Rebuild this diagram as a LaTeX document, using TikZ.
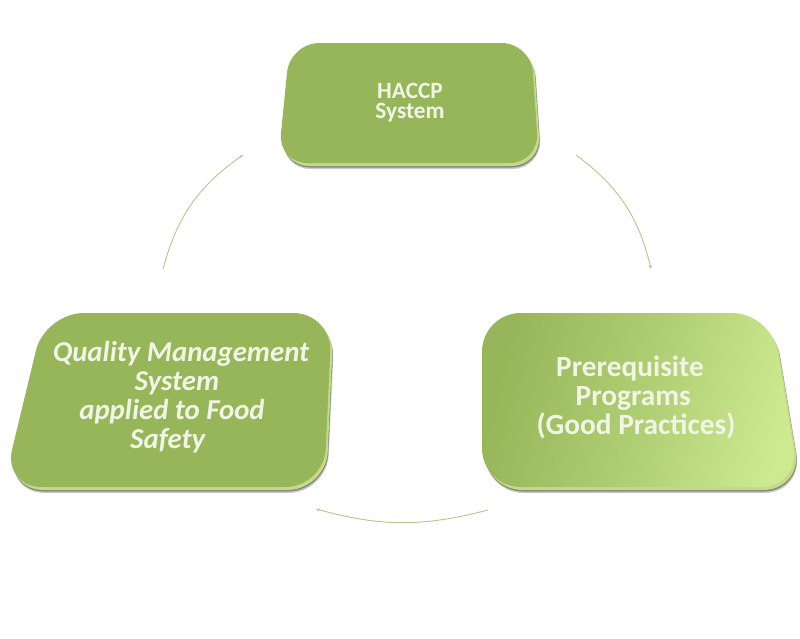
\documentclass[tikz,border=0pt]{standalone}
\usepackage{fontspec}
\setmainfont{Carlito}
\usepackage{tikz}
\usetikzlibrary{positioning,calc,arrows.meta}
\definecolor{faceleft}{HTML}{97B65A}
\definecolor{facemid}{HTML}{AFCD72}
\definecolor{faceright}{HTML}{CDEA90}
\definecolor{rimgreen}{HTML}{C4DB85}
\definecolor{arcgreen}{HTML}{B4C98C}
\definecolor{labelwhite}{HTML}{F1F5E6}
\tikzset{flatface/.style={fill=faceleft}}
\tikzset{glowface/.style={left color=faceleft, right color=faceright, middle color=facemid, shading angle=75}}
\tikzset{boxlabel/.style={text=labelwhite, font=\fontsize{22}{21.7}\selectfont\bfseries, align=center, inner sep=0pt}}
\tikzset{arc/.style={draw=arcgreen, line width=0.7pt, -{Stealth[length=3pt,width=2.5pt]}}}
\newcommand\bevelbox[6][flatface]{
				\fill[black!60, opacity=0.35, rounded corners=#2pt, shift={(1,3)}] #3 -- #4 -- #5 -- #6 -- cycle;
				\fill[black!70, opacity=0.55, rounded corners=#2pt, shift={(0.5,1.5)}] #3 -- #4 -- #5 -- #6 -- cycle;
				\fill[rimgreen, rounded corners=#2pt] #3 -- #4 -- #5 -- #6 -- cycle;
				\path[#1, rounded corners=#2pt, shift={(-2,-3)}] #3 -- #4 -- #5 -- #6 -- cycle;
				}

\begin{document}
\begin{tikzpicture}[x=0.75pt, y=-0.75pt]
	\useasboundingbox (0,0) rectangle (800,639);

	\bevelbox{22}{(292,46)}{(533,46)}{(541,166)}{(280,166)}
	\bevelbox{29}{(47,316)}{(334,316)}{(326,490)}{(5,490)}
	\bevelbox[glowface]{29}{(484,316)}{(773,316)}{(802,490)}{(484,490)}

	\node[boxlabel, font=\fontsize{17.5}{15}\selectfont\bfseries] (haccp) at (410, 102.5) {HACCP\\System};
	\node[boxlabel, font=\fontsize{21.6}{21.7}\selectfont\bfseries\itshape] (quality) at (181, 397)
		{Quality Management\\System\kern6pt\\applied to Food\kern13.5pt\\Safety\kern20pt};
	\node[boxlabel] (prereq) at (636, 397) {Prerequisite\kern9pt\\Programs\kern4pt\\(Good Practices)};

	\coordinate (top-l) at (243, 155);
	\coordinate (top-r) at (576, 155);
	\coordinate (right-t) at (651, 269);
	\coordinate (left-t) at (163, 269);
	\coordinate (bot-r) at (488, 510);
	\coordinate (bot-l) at (316, 509);

	\draw[arc] (top-r) to[bend left=20] (right-t);
	\draw[arc] (bot-r) to[bend left=15] (bot-l);
	\draw[arc] (left-t) to[bend left=20] (top-l);
\end{tikzpicture}
\end{document}
